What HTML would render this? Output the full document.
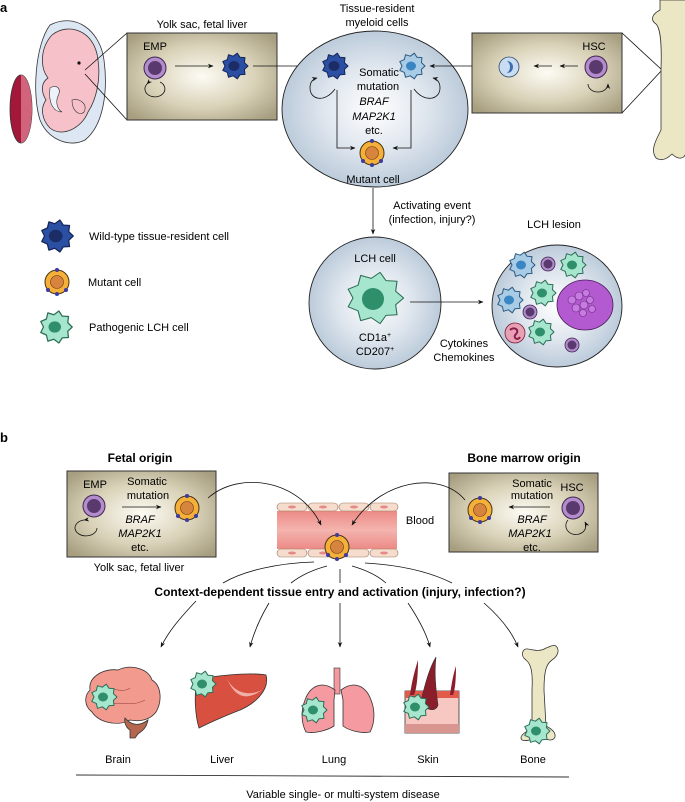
<!DOCTYPE html>
<html><head><meta charset="utf-8"><style>
html,body{margin:0;padding:0;background:#fff;}
svg{display:block;font-family:"Liberation Sans",sans-serif;}
</style></head><body>
<svg width="685" height="802" viewBox="0 0 685 802" xmlns="http://www.w3.org/2000/svg">
<defs>
<radialGradient id="box" cx="50%" cy="50%" r="65%"><stop offset="0" stop-color="#fdfbf4"/><stop offset="0.55" stop-color="#d9d2b8"/><stop offset="1" stop-color="#a79e80"/></radialGradient>
<radialGradient id="circ" cx="50%" cy="50%" r="55%"><stop offset="0" stop-color="#ffffff"/><stop offset="0.5" stop-color="#dfe6ee"/><stop offset="1" stop-color="#b4c5d6"/></radialGradient>
<linearGradient id="vessel" x1="0" y1="0" x2="0" y2="1"><stop offset="0" stop-color="#ec8a86"/><stop offset="0.5" stop-color="#f4b4ae"/><stop offset="1" stop-color="#ec8a86"/></linearGradient>
<marker id="ah" viewBox="0 0 10 10" refX="9" refY="5" markerWidth="7" markerHeight="7" orient="auto"><path d="M0,1 L10,5 L0,9 L3,5 z" fill="#111"/></marker>
<polygon id="star" points="13,0 9.4,3.4 10,8.4 5,8.7 2.3,12.8 -1.7,9.8 -6.5,11.3 -7.7,6.4 -12.2,4.4 -10,0 -12.2,-4.4 -7.7,-6.4 -6.5,-11.3 -1.7,-9.8 2.3,-12.8 5,-8.7 10,-8.4 9.4,-3.4" stroke-linejoin="round"/>
<g id="purple"><circle r="11" fill="#b38ccc" stroke="#3f2650" stroke-width="1"/><circle r="7" fill="#5a3a6e"/></g>
<g id="smpurple"><circle r="7" fill="#b38ccc" stroke="#3f2650" stroke-width="0.8"/><circle r="4.5" fill="#5a3a6e"/></g>
<g id="wt"><use href="#star" fill="#2b4fa3" stroke="#152558" stroke-width="1"/><ellipse rx="5.5" ry="5" cx="-1" fill="#1b2c66"/></g>
<g id="lb"><use href="#star" fill="#a8cbe6" stroke="#2c5a80" stroke-width="1"/><ellipse rx="5" ry="4.5" cx="-1" fill="#3a86c2"/></g>
<g id="lch"><use href="#star" fill="#a6e6cf" stroke="#2d6e56" stroke-width="1"/><ellipse rx="5" ry="4.5" cx="-1" fill="#2e8f6a"/></g>
<g id="mut"><circle r="12" fill="#f5b03a" stroke="#4a3410" stroke-width="1"/><circle r="6.5" fill="#d7843e" stroke="#6b3a10" stroke-width="0.6"/><circle cy="-12" r="2" fill="#3b3ba0"/><circle cx="-9" cy="8" r="2" fill="#3b3ba0"/><circle cx="9" cy="8" r="2" fill="#3b3ba0"/><circle cy="12" r="2" fill="#3b3ba0"/></g>
</defs>

<!-- PANEL A -->
<text x="0" y="12" font-size="13" font-weight="bold">a</text>
<!-- embryo -->
<path d="M50,25 C75,12 100,30 104,60 C108,90 104,125 85,140 C70,148 48,140 40,120 C32,95 35,45 50,25z" fill="#dde7f4" stroke="#333" stroke-width="0.8"/>
<path d="M52,35 C68,22 95,30 98,60 C101,80 96,100 88,112 C82,128 62,138 50,128 C42,120 40,108 46,100 C40,90 42,82 48,78 C40,68 40,48 52,35z" fill="#f6c1c8" stroke="#333" stroke-width="0.8"/>
<path d="M50,88 C56,84 62,88 58,96 C55,103 58,110 62,112 C54,112 48,104 50,88z" fill="#eef2fa" stroke="#333" stroke-width="0.6"/>
<path d="M72,100 C80,98 88,104 84,112 C80,116 72,112 72,100z" fill="#f6c1c8" stroke="#333" stroke-width="0.6"/>
<ellipse cx="21" cy="109" rx="11" ry="34" fill="#a3183a" stroke="#333" stroke-width="0.8"/>
<path d="M21,75 A11,34 0 0 1 32,109 A11,34 0 0 1 21,143z" fill="#d1647a"/>
<circle cx="79" cy="63" r="1.6" fill="#111"/>
<path d="M85,70 L127,33 M85,74 L127,120" stroke="#111" stroke-width="0.8"/>
<!-- left box -->
<text x="202" y="28" font-size="11" text-anchor="middle">Yolk sac, fetal liver</text>
<rect x="127" y="33" width="150" height="87" fill="url(#box)" stroke="#333"/>
<text x="155" y="50" font-size="11" text-anchor="middle">EMP</text>
<use href="#purple" x="155" y="68"/>
<path d="M147,84 A10,8 0 1 0 160,82" fill="none" stroke="#111" stroke-width="0.8" marker-start="url(#ah)"/>
<line x1="175" y1="66" x2="213" y2="66" stroke="#111" stroke-width="0.8" marker-end="url(#ah)"/>
<use href="#wt" x="235" y="66"/>
<line x1="253" y1="66" x2="313" y2="66" stroke="#111" stroke-width="0.8" marker-end="url(#ah)"/>
<!-- big circle -->
<text x="377" y="12" font-size="11" text-anchor="middle">Tissue-resident</text>
<text x="377" y="26" font-size="11" text-anchor="middle">myeloid cells</text>
<ellipse cx="375" cy="109" rx="93" ry="78" fill="url(#circ)" stroke="#222" stroke-width="0.9"/>
<use href="#wt" x="335" y="66"/>
<use href="#lb" x="412" y="66"/>
<text x="379" y="76" font-size="11" text-anchor="middle">Somatic</text>
<text x="378" y="90" font-size="11" text-anchor="middle">mutation</text>
<text x="374" y="105" font-size="11" text-anchor="middle" font-style="italic">BRAF</text>
<text x="374" y="120" font-size="11" text-anchor="middle" font-style="italic">MAP2K1</text>
<text x="374" y="134" font-size="11" text-anchor="middle">etc.</text>
<path d="M335,89 C325,103 310,100 310,88 C310,82 313,79 317,78" fill="none" stroke="#111" stroke-width="0.8" marker-end="url(#ah)"/>
<path d="M414,89 C424,103 440,100 440,88 C440,82 437,79 433,78" fill="none" stroke="#111" stroke-width="0.8" marker-end="url(#ah)"/>
<path d="M337,90 L337,148 L355,148" fill="none" stroke="#111" stroke-width="0.8" marker-end="url(#ah)"/>
<path d="M411,90 L411,148 L393,148" fill="none" stroke="#111" stroke-width="0.8" marker-end="url(#ah)"/>
<use href="#mut" x="372" y="153"/>
<text x="373" y="183" font-size="11" text-anchor="middle">Mutant cell</text>
<!-- right box -->
<line x1="489" y1="66" x2="430" y2="66" stroke="#111" stroke-width="0.8" marker-end="url(#ah)"/>
<rect x="472" y="33" width="150" height="80" fill="url(#box)" stroke="#333"/>
<text x="594" y="50" font-size="11" text-anchor="middle">HSC</text>
<use href="#purple" x="596" y="67"/>
<path d="M588,84 A10,8 0 1 0 608,84" fill="none" stroke="#111" stroke-width="0.8" marker-end="url(#ah)"/>
<line x1="578" y1="66" x2="560" y2="66" stroke="#111" stroke-width="0.8" marker-end="url(#ah)"/>
<line x1="552" y1="66" x2="534" y2="66" stroke="#111" stroke-width="0.8" marker-end="url(#ah)"/>
<circle cx="509" cy="67" r="10" fill="#c9dcf2" stroke="#2c4a70" stroke-width="0.8"/>
<path d="M507,61 C515,61 515,73 507,73 C511,70 511,64 507,61z" fill="#3d6fb0"/>
<path d="M622,33 L662,70 L622,113" fill="none" stroke="#111" stroke-width="0.8"/>
<!-- bone top -->
<path d="M660,0 L660,10 C652,14 650,20 656,24 C660,28 662,40 661,70 L661,130 C656,140 650,150 656,158 C662,162 668,158 672,154 C678,160 686,160 686,150 L686,0z" fill="#ebe6c4" stroke="#333" stroke-width="0.8"/>
<!-- arrow down -->
<line x1="373" y1="188" x2="373" y2="234" stroke="#111" stroke-width="0.8" marker-end="url(#ah)"/>
<text x="432" y="209" font-size="11" text-anchor="middle">Activating event</text>
<text x="432" y="223" font-size="11" text-anchor="middle">(infection, injury?)</text>
<!-- legend -->
<g transform="translate(57,236) scale(1.25)"><use href="#wt"/></g>
<text x="89" y="240" font-size="11">Wild-type tissue-resident cell</text>
<use href="#mut" x="57" y="282"/>
<text x="88" y="286" font-size="11">Mutant cell</text>
<g transform="translate(56,327) scale(1.25)"><use href="#lch"/></g>
<text x="89" y="331" font-size="11">Pathogenic LCH cell</text>
<!-- LCH cell circle -->
<ellipse cx="375" cy="303" rx="66" ry="66" fill="url(#circ)" stroke="#222" stroke-width="0.9"/>
<text x="375" y="262" font-size="11" text-anchor="middle">LCH cell</text>
<g transform="translate(375,298) scale(2.2,2)"><use href="#star" fill="#a6e6cf" stroke="#2d6e56" stroke-width="0.5"/></g>
<ellipse cx="373" cy="299" rx="11" ry="11" fill="#2e8f6a"/>
<text x="375" y="341" font-size="11" text-anchor="middle">CD1a<tspan font-size="7" dy="-4">+</tspan></text>
<text x="375" y="355" font-size="11" text-anchor="middle">CD207<tspan font-size="7" dy="-4">+</tspan></text>
<line x1="410" y1="302" x2="483" y2="302" stroke="#111" stroke-width="0.8" marker-end="url(#ah)"/>
<text x="464" y="347" font-size="11" text-anchor="middle">Cytokines</text>
<text x="464" y="361" font-size="11" text-anchor="middle">Chemokines</text>
<!-- lesion -->
<text x="554" y="228" font-size="11" text-anchor="middle">LCH lesion</text>
<ellipse cx="557" cy="306" rx="65" ry="61" fill="url(#circ)" stroke="#222" stroke-width="0.9"/>
<use href="#lb" x="522" y="265"/>
<use href="#smpurple" x="548" y="264"/>
<use href="#lch" x="573" y="265"/>
<use href="#lch" x="543" y="293"/>
<use href="#lb" x="510" y="300"/>
<use href="#smpurple" x="530" y="312"/>
<ellipse cx="585" cy="305" rx="28" ry="25" fill="#b35ad0" stroke="#4a1a5a" stroke-width="0.8"/>
<g fill="#c77ae0" stroke="#6a2a80" stroke-width="0.6"><circle cx="572" cy="300" r="4"/><circle cx="579" cy="296" r="4"/><circle cx="586" cy="293" r="3.5"/><circle cx="576" cy="308" r="4"/><circle cx="584" cy="305" r="4"/><circle cx="590" cy="300" r="3.5"/><circle cx="583" cy="313" r="3.5"/><circle cx="592" cy="309" r="3.5"/></g>
<circle cx="515" cy="333" r="10" fill="#e7a0b4" stroke="#7a1e3a" stroke-width="0.8"/>
<path d="M510,330 C514,326 520,330 516,334 C512,338 518,341 520,337" fill="none" stroke="#8a1e4a" stroke-width="2"/>
<use href="#lch" x="541" y="332"/>
<use href="#smpurple" x="572" y="345"/>

<!-- PANEL B -->
<text x="0" y="442" font-size="13" font-weight="bold">b</text>
<text x="140" y="462" font-size="12" font-weight="bold" text-anchor="middle">Fetal origin</text>
<rect x="67" y="471" width="149" height="86" fill="url(#box)" stroke="#333"/>
<text x="95" y="488" font-size="11" text-anchor="middle">EMP</text>
<use href="#purple" x="94" y="506"/>
<path d="M84,520 A11,8 0 1 0 97,528" fill="none" stroke="#111" stroke-width="0.8" marker-start="url(#ah)"/>
<text x="147" y="485" font-size="11" text-anchor="middle">Somatic</text>
<text x="148" y="499" font-size="11" text-anchor="middle">mutation</text>
<line x1="122" y1="507" x2="161" y2="507" stroke="#111" stroke-width="0.8" marker-end="url(#ah)"/>
<text x="140" y="523" font-size="11" text-anchor="middle" font-style="italic">BRAF</text>
<text x="140" y="537" font-size="11" text-anchor="middle" font-style="italic">MAP2K1</text>
<text x="140" y="551" font-size="11" text-anchor="middle">etc.</text>
<use href="#mut" x="187" y="508"/>
<text x="139" y="571" font-size="11" text-anchor="middle">Yolk sac, fetal liver</text>

<text x="524" y="462" font-size="12" font-weight="bold" text-anchor="middle">Bone marrow origin</text>
<rect x="449" y="473" width="149" height="79" fill="url(#box)" stroke="#333"/>
<text x="532" y="487" font-size="11" text-anchor="middle">Somatic</text>
<text x="532" y="499" font-size="11" text-anchor="middle">mutation</text>
<text x="572" y="491" font-size="11" text-anchor="middle">HSC</text>
<use href="#purple" x="573" y="508"/>
<path d="M568,520 A10,9 0 1 0 585,522" fill="none" stroke="#111" stroke-width="0.8" marker-end="url(#ah)"/>
<line x1="550" y1="507" x2="509" y2="507" stroke="#111" stroke-width="0.8" marker-end="url(#ah)"/>
<text x="532" y="523" font-size="11" text-anchor="middle" font-style="italic">BRAF</text>
<text x="530" y="537" font-size="11" text-anchor="middle" font-style="italic">MAP2K1</text>
<text x="532" y="551" font-size="11" text-anchor="middle">etc.</text>
<use href="#mut" x="480" y="510"/>

<!-- vessel -->
<rect x="277" y="511" width="120" height="38" fill="url(#vessel)"/>
<g fill="#f6dccd" stroke="#9a7a60" stroke-width="0.6">
<rect x="277" y="503" width="30" height="8" rx="4"/><rect x="308" y="503" width="30" height="8" rx="4"/><rect x="339" y="503" width="30" height="8" rx="4"/><rect x="370" y="503" width="28" height="8" rx="4"/>
<rect x="277" y="549" width="30" height="8" rx="4"/><rect x="308" y="549" width="30" height="8" rx="4"/><rect x="339" y="549" width="30" height="8" rx="4"/><rect x="370" y="549" width="28" height="8" rx="4"/>
</g>
<g fill="#e48a88"><ellipse cx="292" cy="507" rx="4" ry="1.5"/><ellipse cx="323" cy="507" rx="4" ry="1.5"/><ellipse cx="354" cy="507" rx="4" ry="1.5"/><ellipse cx="384" cy="507" rx="4" ry="1.5"/><ellipse cx="292" cy="553" rx="4" ry="1.5"/><ellipse cx="323" cy="553" rx="4" ry="1.5"/><ellipse cx="384" cy="553" rx="4" ry="1.5"/></g>
<text x="420" y="524" font-size="11" text-anchor="middle">Blood</text>
<use href="#mut" x="337" y="547"/>
<path d="M208,498 C240,470 300,480 321,525" fill="none" stroke="#111" stroke-width="0.8" marker-end="url(#ah)"/>
<path d="M465,500 C440,470 380,480 352,525" fill="none" stroke="#111" stroke-width="0.8" marker-end="url(#ah)"/>
<g fill="none" stroke="#111" stroke-width="0.8">
<path d="M314,562 C280,563 245,570 223,583"/>
<path d="M327,566 C312,570 300,576 291,583"/>
<line x1="340" y1="569" x2="340" y2="583"/>
<path d="M352,566 C366,570 378,576 386,583"/>
<path d="M365,563 C400,565 430,572 452,583"/>
</g>
<text x="340" y="596" font-size="12" font-weight="bold" text-anchor="middle">Context-dependent tissue entry and activation (injury, infection?)</text>
<g fill="none" stroke="#111" stroke-width="0.8">
<path d="M196,601 C180,618 168,632 161,647" marker-end="url(#ah)"/>
<path d="M269,603 C260,618 254,632 250,647" marker-end="url(#ah)"/>
<line x1="340" y1="603" x2="340" y2="647" marker-end="url(#ah)"/>
<path d="M408,603 C418,618 426,632 430,647" marker-end="url(#ah)"/>
<path d="M484,603 C500,617 512,632 518,647" marker-end="url(#ah)"/>
</g>
<!-- brain -->
<path d="M90,690 C88,676 105,668 118,670 C130,664 148,668 152,680 C162,686 162,702 156,712 C150,720 140,722 130,720 C120,726 100,724 92,712 C84,706 84,696 90,690z" fill="#f29a8e" stroke="#333" stroke-width="0.8"/>
<path d="M125,718 C132,726 140,726 148,720 C146,730 140,732 138,734 L135,738 L130,738 L130,730 C126,728 124,722 125,718z" fill="#b5664e" stroke="#333" stroke-width="0.8"/>
<path d="M100,690 C110,684 120,695 130,688 M110,705 C120,700 130,708 145,700" fill="none" stroke="#9a4a40" stroke-width="0.6"/>
<use href="#lch" x="104" y="697"/>
<!-- liver -->
<path d="M197,680 C210,676 250,672 266,675 C270,690 255,705 235,712 C220,718 205,725 199,728 C195,715 194,695 197,680z" fill="#d8503f" stroke="#333" stroke-width="0.8"/>
<path d="M226,677 C232,690 245,698 262,690 C248,700 236,700 226,677z" fill="#f0b0a8"/>
<use href="#lch" x="203" y="684"/>
<!-- lung -->
<rect x="334" y="668" width="6" height="26" fill="#f29aa0" stroke="#333" stroke-width="0.6"/>
<path d="M335,690 C322,680 310,686 305,700 C300,712 302,725 306,732 C315,734 328,730 334,726 L334,700z" fill="#f59aa0" stroke="#333" stroke-width="0.8"/>
<path d="M341,690 C354,680 366,686 371,700 C376,712 374,725 370,732 C361,734 348,730 343,726 L343,700z" fill="#f59aa0" stroke="#333" stroke-width="0.8"/>
<use href="#lch" x="314" y="710"/>
<!-- skin -->
<rect x="405" y="691" width="54" height="42" fill="#f7c7c2" stroke="#333" stroke-width="0.8"/>
<rect x="405" y="691" width="54" height="7" fill="#e25a4a"/>
<rect x="405" y="724" width="54" height="9" fill="#d99590"/>
<path d="M421,700 C424,690 428,670 436,657 C434,675 436,690 438,705 C436,712 426,712 421,700z" fill="#8a1e2a" stroke="#333" stroke-width="0.6"/>
<path d="M410,695 C412,680 415,670 418,660 C418,675 417,688 414,695z M450,695 C452,680 454,672 456,666 C456,680 455,690 453,695z" fill="#8a1e2a"/>
<use href="#lch" x="416" y="707"/>
<!-- bone -->
<path d="M528,649 C522,648 520,656 526,660 C531,664 533,672 532,690 L532,728 C526,732 518,736 522,740 C528,742 535,738 540,736 C546,740 553,742 555,737 C556,732 550,728 546,726 L544,690 C544,672 546,664 552,660 C558,656 560,650 556,646 C552,644 548,648 546,648 C540,652 534,650 528,649z" fill="#ebe6c4" stroke="#333" stroke-width="0.8"/>
<use href="#lch" x="537" y="731"/>
<!-- labels -->
<text x="118" y="763" font-size="11" text-anchor="middle">Brain</text>
<text x="222" y="763" font-size="11" text-anchor="middle">Liver</text>
<text x="334" y="763" font-size="11" text-anchor="middle">Lung</text>
<text x="428" y="763" font-size="11" text-anchor="middle">Skin</text>
<text x="533" y="763" font-size="11" text-anchor="middle">Bone</text>
<line x1="76" y1="775" x2="569" y2="777" stroke="#333" stroke-width="0.9"/>
<text x="343" y="798" font-size="11" text-anchor="middle">Variable single- or multi-system disease</text>
</svg>
</body></html>
